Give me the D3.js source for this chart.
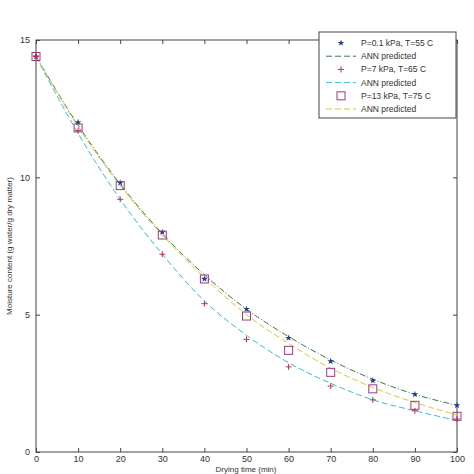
<!DOCTYPE html>
<html><head><meta charset="utf-8">
<script src="https://cdn.jsdelivr.net/npm/d3@7"></script>
<style>body{margin:0;background:#fff;font-family:"Liberation Sans",Arial,sans-serif;}</style>
</head><body>
<script>
var times = [0,10,20,30,40,50,60,70,80,90,100];
var exp1 = [14.4,12.0,9.8,8.0,6.3,5.2,4.15,3.3,2.6,2.1,1.7];
var ann1 = [14.4,11.9,9.75,7.95,6.45,5.2,4.2,3.35,2.65,2.1,1.7];
var exp2 = [14.4,11.7,9.2,7.2,5.4,4.1,3.1,2.4,1.9,1.5,1.2];
var ann2 = [14.4,11.6,9.2,7.2,5.5,4.25,3.25,2.5,1.9,1.5,1.15];
var exp3 = [14.4,11.8,9.7,7.9,6.3,4.95,3.7,2.9,2.3,1.7,1.3];
var ann3 = [14.4,11.85,9.7,7.9,6.35,5.0,3.95,3.05,2.35,1.8,1.35];
var xTicks = [0,10,20,30,40,50,60,70,80,90,100];
var yTicks = [0,5,10,15];

var width = 474, height = 474;
var svg = d3.select("body").append("svg").attr("width", width).attr("height", height);
var x = d3.scaleLinear().domain([0,100]).range([36,457]);
var y = d3.scaleLinear().domain([0,15]).range([452,40]);

svg.append("rect").attr("x",36).attr("y",40).attr("width",421).attr("height",412)
	.attr("fill","none").attr("stroke","#444");

svg.append("g").attr("transform","translate(0,452)")
	.call(d3.axisBottom(x).tickValues(xTicks).tickSizeInner(-4).tickSizeOuter(0).tickPadding(4))
	.call(g => g.select(".domain").remove());
svg.append("g").attr("transform","translate(0,40)")
	.call(d3.axisTop(x).tickValues(xTicks).tickSizeInner(-4).tickSizeOuter(0).tickFormat(""))
	.call(g => g.select(".domain").remove());
svg.append("g").attr("transform","translate(36,0)")
	.call(d3.axisLeft(y).tickValues(yTicks).tickSizeInner(-4).tickSizeOuter(0).tickPadding(6))
	.call(g => g.select(".domain").remove());
svg.append("g").attr("transform","translate(457,0)")
	.call(d3.axisRight(y).tickValues(yTicks).tickSizeInner(-4).tickSizeOuter(0).tickFormat(""))
	.call(g => g.select(".domain").remove());
svg.selectAll(".tick text").attr("font-size",9).attr("fill","#333");
svg.selectAll(".tick line").attr("stroke","#444");

svg.append("text").attr("x",246).attr("y",472).attr("text-anchor","middle")
	.attr("font-size",8).attr("fill","#333").text("Drying time (min)");
svg.append("text").attr("transform","translate(12,246) rotate(-90)").attr("text-anchor","middle")
	.attr("font-size",8).attr("fill","#333").text("Moisture content (g water/g dry matter)");

var line = d3.line().curve(d3.curveMonotoneX).x((d,i) => x(times[i])).y(d => y(d));
[[ann1,"#3a7a4a","6,2,1,2"],[ann2,"#33c0d8","6,3"],[ann3,"#d4cc30","6,3"]].forEach(function(s){
	svg.append("path").attr("d", line(s[0])).attr("fill","none").attr("stroke",s[1])
		.attr("stroke-width",1).attr("stroke-dasharray",s[2]);
});

var star = d3.symbol().type(d3.symbolStar).size(14);
svg.selectAll(".s1").data(exp1).enter().append("path")
	.attr("transform",(d,i) => "translate(" + x(times[i]) + "," + y(d) + ")")
	.attr("d", star).attr("fill","#223a8a");
svg.selectAll(".s2").data(exp2).enter().append("path")
	.attr("transform",(d,i) => "translate(" + x(times[i]) + "," + y(d) + ")")
	.attr("d","M-3,0H3M0,-3V3").attr("stroke","#c03050").attr("stroke-width",1);
svg.selectAll(".s3").data(exp3).enter().append("rect")
	.attr("x",(d,i) => x(times[i]) - 4).attr("y", d => y(d) - 4)
	.attr("width",8).attr("height",8).attr("fill","none").attr("stroke","#9a3a8a");

// legend
var lg = svg.append("g").attr("transform","translate(319,32)");
lg.append("rect").attr("width",137).attr("height",86).attr("fill","#fff").attr("stroke","#444");
var items = [
	["star","#223a8a","P=0.1 kPa, T=55 C"],
	["line","#3a7a4a","ANN predicted"],
	["plus","#c03050","P=7 kPa, T=65 C"],
	["line","#33c0d8","ANN predicted"],
	["sq","#9a3a8a","P=13 kPa, T=75 C"],
	["line","#d4cc30","ANN predicted"]];
items.forEach(function(it,i){
	var cy = 11 + i*13.2;
	if (it[0]=="star") lg.append("path").attr("transform","translate(22,"+cy+")").attr("d",star).attr("fill",it[1]);
	if (it[0]=="plus") lg.append("path").attr("transform","translate(22,"+cy+")").attr("d","M-3,0H3M0,-3V3").attr("stroke",it[1]);
	if (it[0]=="sq") lg.append("rect").attr("x",18).attr("y",cy-4).attr("width",8).attr("height",8).attr("fill","none").attr("stroke",it[1]);
	if (it[0]=="line") lg.append("line").attr("x1",7).attr("x2",37).attr("y1",cy).attr("y2",cy)
		.attr("stroke",it[1]).attr("stroke-dasharray","6,3");
	lg.append("text").attr("x",42).attr("y",cy+3).attr("font-size",8.5).attr("fill","#333").text(it[2]);
});
</script>
</body></html>
